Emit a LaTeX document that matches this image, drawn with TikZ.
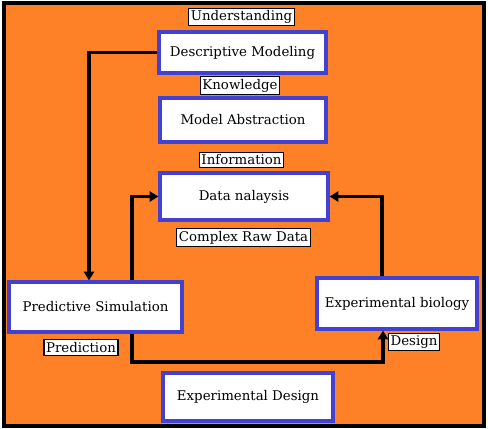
\documentclass[tikz,border=0pt]{standalone}
\usepackage{fontspec}
\setmainfont{DejaVu Serif}
\usetikzlibrary{arrows.meta}
\definecolor{bgor}{RGB}{254,128,39}
\definecolor{bblue}{RGB}{66,66,210}
\begin{document}
\begin{tikzpicture}[x=0.75pt,y=-0.75pt,
  box/.style={draw=bblue,line width=2.4pt,fill=white,inner sep=0pt,font=\fontsize{10}{12}\selectfont},
  lbl/.style={draw=black,line width=0.8pt,fill=white,inner xsep=1.6pt,inner ysep=1.8pt,font=\fontsize{10}{12}\selectfont},
  conn/.style={line width=2.6pt,-{Triangle[length=6.5pt,width=7.5pt]}}]
\useasboundingbox (0,0) rectangle (488,428);
\draw[fill=bgor,line width=3pt] (4,3.5) rectangle (483.5,425.8);
% boxes
\node[box,minimum width=167*0.75pt,minimum height=41*0.75pt] (dm) at (242.5,52.5) {Descriptive Modeling};
\node[box,minimum width=166*0.75pt,minimum height=44*0.75pt] (ma) at (243,120) {Model Abstraction};
\node[box,minimum width=168*0.75pt,minimum height=47*0.75pt] (da) at (244,196.5) {\raisebox{2pt}{Data nalaysis}};
\node[box,minimum width=173*0.75pt,minimum height=50*0.75pt] (ps) at (95.5,307) {Predictive Simulation};
\node[box,minimum width=160*0.75pt,minimum height=51*0.75pt] (eb) at (397,303.5) {Experimental biology};
\node[box,minimum width=170*0.75pt,minimum height=48*0.75pt] (ed) at (248,397) {Experimental Design};
% labels
\node[lbl] (l1) at (241.5,17) {Understanding};
\node[lbl] (l2) at (240,85.5) {Knowledge};
\node[lbl] (l3) at (241.5,160) {Information};
\node[lbl] (l4) at (243.5,237.5) {Complex Raw Data};
\node[lbl] (l5) at (81,347.5) {Prediction};
\node[lbl] (l6) at (414,342) {Design};
% connectors
\draw[conn] (dm.west) -| (ps.north -| 89,0);
\draw[conn] (ps.north -| 132,0) |- (da.west);
\draw[conn] (ps.south -| 132,0) -- (132,362) -| (eb.south -| 383,0);
\draw[conn] (eb.north -| 382,0) |- (da.east);
\end{tikzpicture}
\end{document}
